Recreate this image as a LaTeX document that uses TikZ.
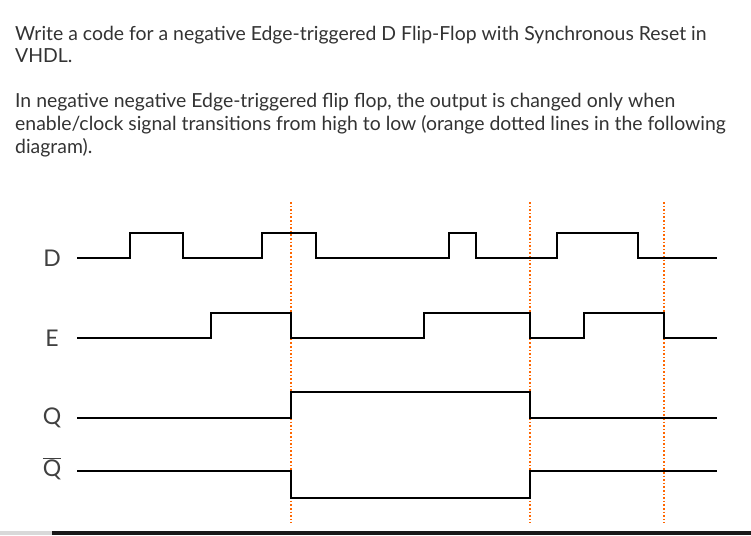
\documentclass[tikz,border=0pt]{standalone}
\usepackage{fontspec}
\setmainfont{Lato}
\begin{document}
\begin{tikzpicture}[x=1pt,y=-1pt,
  txt/.style={anchor=base west,inner sep=0pt,text=black!80,font=\fontsize{19.4}{21}\selectfont},
  wave/.style={line width=2.6pt,line join=miter,black},
  lab/.style={font=\fontsize{23}{25}\selectfont,text=black!75,inner sep=0pt},
  edge/.style={orange!80!red,dotted,line width=1.6pt}]
\useasboundingbox (0,0) rectangle (751,535);
\fill[white] (0,0) rectangle (751,535);
\node[txt] (t1) at (15,41) {Write a code for a negative Edge-triggered D Flip-Flop with Synchronous Reset in};
\node[txt] (t2) at (15,63) {VHDL.};
\node[txt] (t3) at (15,107) {In negative negative Edge-triggered flip flop, the output is changed only when};
\node[txt] (t4) at (15,130) {enable/clock signal transitions from high to low (orange dotted lines in the following};
\node[txt] (t5) at (15,153) {diagram).};
\foreach \x/\n in {291/a,530/b,664/c} \draw[edge] (\x,202) -- (\x,523);
\node[lab] (D) at (52,258) {D};
\node[lab] (E) at (52,338) {E};
\node[lab] (Q) at (52,418) {Q};
\node[lab] (Qb) at (52,469) {$\overline{\mbox{Q}}$};
\draw[wave] (77,258) -| (130,233) -| (183,258) -| (262,233) -| (316,258) -| (449,233) -| (476,258) -| (557,233) -| (638,258) -- (717,258);
\draw[wave] (77,338) -| (211,313) -| (291,338) -| (424,313) -| (530,338) -| (584,313) -| (664,338) -- (717,338);
\draw[wave] (77,418) -| (291,392) -| (530,418) -- (717,418);
\draw[wave] (77,471) -| (291,498) -| (530,471) -- (717,471);
\fill[black!15] (0,531) rectangle (52,535);
\fill[black!90] (52,531) rectangle (751,535);
\end{tikzpicture}
\end{document}
